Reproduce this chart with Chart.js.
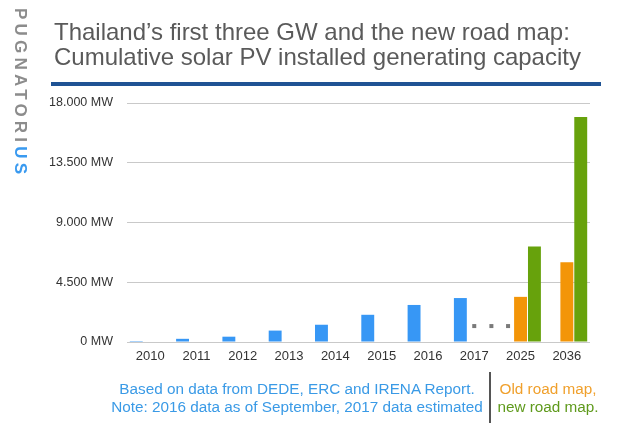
<!DOCTYPE html>
<html>
<head>
<meta charset="utf-8">
<script src="https://cdn.jsdelivr.net/npm/chart.js@4/dist/chart.umd.min.js"></script>
<style>
 html, body { margin: 0; padding: 0; background: #fff; }
 #wrap { position: relative; width: 640px; height: 441px; overflow: hidden; font-family: "Liberation Sans", Arial, sans-serif; }
 #solarChart { position: absolute; left: 0; top: 0; }
 .logo { position: absolute; left: 12px; top: 8px; writing-mode: vertical-rl; font-size: 17px; line-height: 17px; letter-spacing: 4.2px; font-weight: bold; color: #8c8c8c; }
 .logo span { color: #3a9af0; }
 .title { position: absolute; left: 54px; top: 19px; font-size: 24px; line-height: 25px; color: #5a5a5a; white-space: nowrap; }
 .rule { position: absolute; left: 51px; top: 82px; width: 550px; height: 4px; background: #1f5394; }
 .note { position: absolute; top: 380px; font-size: 15.3px; line-height: 18px; white-space: nowrap; }
 .note.left { left: 96px; width: 402px; text-align: center; color: #3a9ae6; }
 .note.right { left: 492px; width: 112px; text-align: center; }
 .sep { position: absolute; left: 489px; top: 372px; width: 2px; height: 51px; background: #555; }
 .old { color: #f0a02c; }
 .new { color: #5f9a1c; }
</style>
</head>
<body>
<div id="wrap">
 <canvas id="solarChart" width="640" height="441"></canvas>
 <div class="logo">PUGNATORI<span>US</span></div>
 <div class="title">Thailand’s first three GW and the new road map:<br>Cumulative solar PV installed generating capacity</div>
 <div class="rule"></div>
 <div class="note left">Based on data from DEDE, ERC and IRENA Report.<br>Note: 2016 data as of September, 2017 data estimated</div>
 <div class="sep"></div>
 <div class="note right"><span class="old">Old road map,</span><br><span class="new">new road map.</span></div>
</div>

<script>
'use strict';

var years = ['2010', '2011', '2012', '2013', '2014', '2015', '2016', '2017', '2025', '2036'];
var installedMW = [70, 240, 400, 860, 1300, 2050, 2790, 3310, null, null];
var oldRoadMapMW = [null, null, null, null, null, null, null, null, 3400, 6000];
var newRoadMapMW = [null, null, null, null, null, null, null, null, 7200, 16950];
var yTicks = [0, 4500, 9000, 13500, 18000];

// the "..." between 2017 and 2025 (category index, value in MW)
var gapDots = [7, 7.37, 7.73];
var gapLevel = 1200;

function fmtMW(v) {
  return String(v).replace(/\B(?=(\d{3})+(?!\d))/g, '.') + ' MW';
}

var gapPlugin = {
  id: 'gapDots',
  afterDatasetsDraw: function(chart) {
    var ctx = chart.ctx;
    var xs = chart.scales.x, ys = chart.scales.y;
    ctx.save();
    ctx.fillStyle = '#7a7a7a';
    gapDots.forEach(function(d) {
      var px = xs.getPixelForValue(d);
      var py = ys.getPixelForValue(gapLevel);
      ctx.fillRect(px - 2, py - 2, 4, 4);
    });
    ctx.restore();
  }
};

var solarChart = new Chart('solarChart', {
  type: 'bar',
  data: {
    labels: years,
    datasets: [
      { label: 'Installed', data: installedMW, backgroundColor: '#3797f5' },
      { label: 'Old road map', data: oldRoadMapMW, backgroundColor: '#f39508' },
      { label: 'New road map', data: newRoadMapMW, backgroundColor: '#67a20c' }
    ]
  },
  options: {
    responsive: false,
    animation: false,
    devicePixelRatio: 1,
    categoryPercentage: 0.9,
    barPercentage: 0.93,
    layout: { padding: { left: 0, right: 50, top: 103, bottom: 69 } },
    plugins: { legend: { display: false }, tooltip: { enabled: false } },
    scales: {
      x: {
        grid: { display: false, drawTicks: false },
        border: { display: false },
        ticks: { color: '#333', font: { family: 'Liberation Sans', size: 13 }, padding: 7, maxRotation: 0 },
        afterFit: function(scale) { scale.height = 30; }
      },
      y: {
        min: 0,
        max: 18000,
        grid: { color: '#c9c9c9', drawTicks: false },
        border: { display: false },
        ticks: {
          color: '#333',
          font: { family: 'Liberation Sans', size: 12.5 },
          padding: 14,
          callback: function(v) { return fmtMW(v); }
        },
        afterBuildTicks: function(scale) {
          scale.ticks = yTicks.map(function(v) { return { value: v }; });
        },
        afterFit: function(scale) { scale.width = 127; }
      }
    }
  },
  plugins: [gapPlugin]
});
</script>
</body>
</html>
